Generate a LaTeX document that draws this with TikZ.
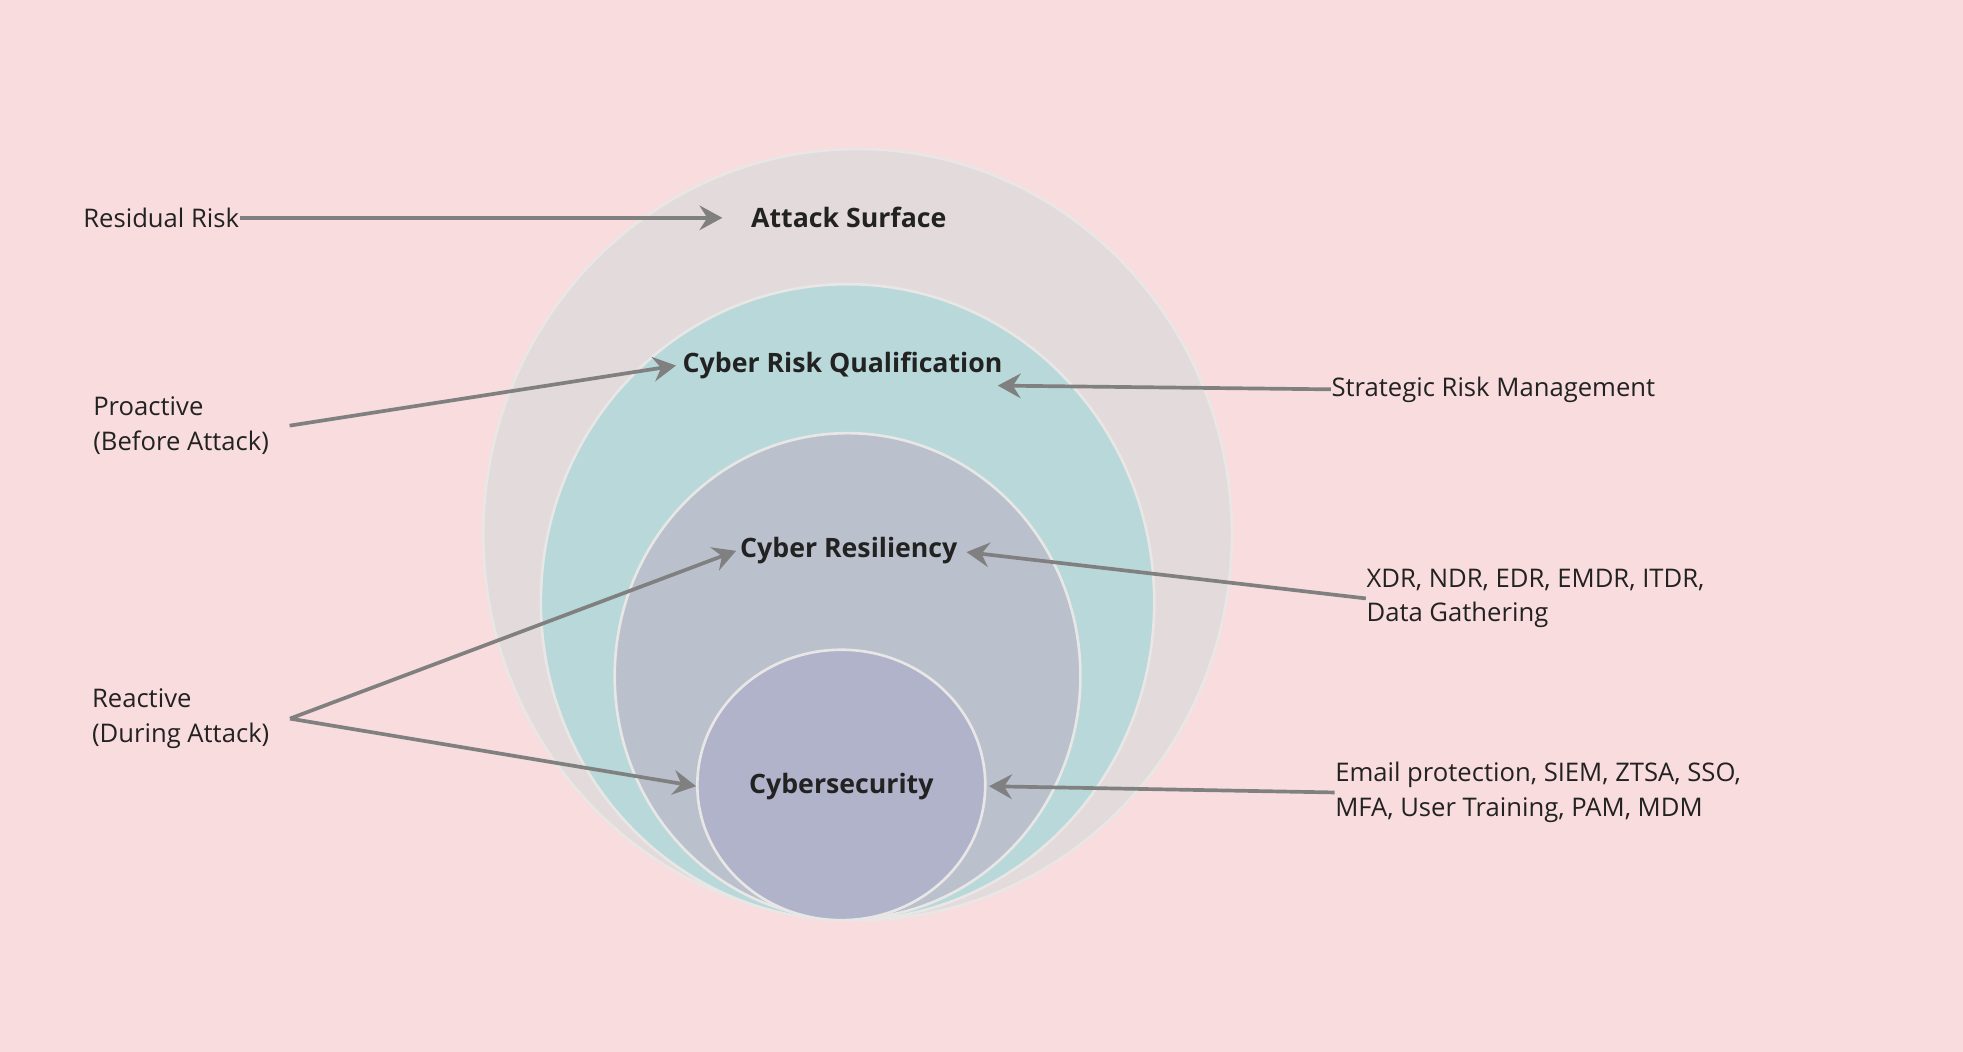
\documentclass[tikz,border=0pt]{standalone}
\usepackage{fontspec}
\setmainfont{Open Sans}
\usetikzlibrary{arrows.meta}
\definecolor{bgpink}{HTML}{F9DCDD}
\definecolor{ringline}{HTML}{E9E6E6}
\definecolor{surfacefill}{HTML}{E3DBDB}
\definecolor{riskfill}{HTML}{B8D8DA}
\definecolor{resilfill}{HTML}{BAC1CD}
\definecolor{securefill}{HTML}{B1B3CA}
\definecolor{arrowgray}{HTML}{808080}
\definecolor{textdark}{HTML}{222222}
\tikzset{
    ring/.style = {draw=ringline, line width=0.75pt},
    layer/.style = {font=\fontsize{7.6}{9.8}\selectfont\bfseries, text=textdark, inner sep=0pt},
    note/.style = {font=\fontsize{7.3}{9.9}\selectfont, text=textdark, align=left, inner sep=0pt},
    pointer/.style = {draw=arrowgray, line width=1.05pt, -{Stealth[length=6.5pt,width=7pt,inset=2.2pt]}}
}
\begin{document}
\begin{tikzpicture}[x=0.01252cm, y=-0.01252cm]
        \fill[bgpink] (0,0) rectangle (1568,840);
        \useasboundingbox (0,0) rectangle (1568,840);
        % nested rings
        \filldraw[ring, fill=surfacefill] (685,427) ellipse (299 and 308);
        \filldraw[ring, fill=riskfill] (677,481) ellipse (245 and 254);
        \filldraw[ring, fill=resilfill] (677,540) ellipse (186 and 194);
        \filldraw[ring, fill=securefill] (672,627) ellipse (115 and 108);
        % ring titles
        \node[layer] (surface) at (678,174) {Attack Surface};
        \node[layer] (risk) at (673,292) {Cyber Risk Qualification};
        \node[layer] (resil) at (678,440) {Cyber Resiliency};
        \node[layer] (secure) at (672,628) {Cybersecurity};
        % side notes
        \node[note, anchor=west] (residual) at (66,174) {Residual Risk};
        \node[note, anchor=west, inner xsep=0.2cm] (proactive) at (58,340) {Proactive\\(Before Attack)};
        \node[note, anchor=west, inner xsep=0.2cm] (reactive) at (57,574) {Reactive\\(During Attack)};
        \node[note, anchor=west] (strategic) at (1063,311) {Strategic Risk Management};
        \node[note, anchor=west] (xdr) at (1091,478) {XDR, NDR, EDR, EMDR, ITDR,\\Data Gathering};
        \node[note, anchor=west] (email) at (1066,633) {Email protection, SIEM, ZTSA, SSO,\\MFA, User Training, PAM, MDM};
        % arrow tips
        \coordinate (surfacetip) at (577,174);
        \coordinate (risktipl) at (540,292);
        \coordinate (risktipr) at (797,308);
        \coordinate (resiltipl) at (588,440);
        \coordinate (resiltipr) at (772,441);
        \coordinate (securetipl) at (556,628);
        \coordinate (securetipr) at (790,628);
        % pointers
        \draw[pointer] (residual.east) -- (surfacetip);
        \draw[pointer] (proactive.east) -- (risktipl);
        \draw[pointer] (strategic.west) -- (risktipr);
        \draw[pointer] (xdr.west) -- (resiltipr);
        \draw[pointer] (reactive.east) -- (resiltipl);
        \draw[pointer] (reactive.east) -- (securetipl);
        \draw[pointer] (email.west) -- (securetipr);
\end{tikzpicture}
\end{document}
